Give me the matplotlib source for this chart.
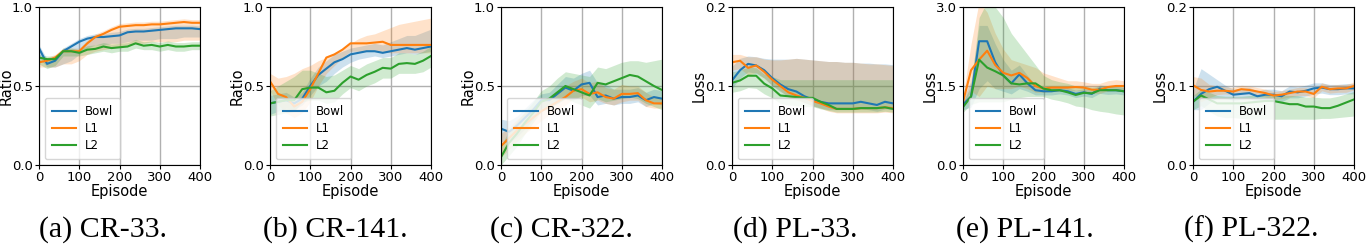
import numpy as np
import matplotlib
matplotlib.use("Agg")
import matplotlib.pyplot as plt

episodes = list(range(0, 401, 20))
series_names = ["Bowl", "L1", "L2"]
captions = ["(a) CR-33.", "(b) CR-141.", "(c) CR-322.", "(d) PL-33.", "(e) PL-141.", "(f) PL-322."]
ylabels = ["Ratio", "Ratio", "Ratio", "Loss", "Loss", "Loss"]
ylims = [1.0, 1.0, 1.0, 0.2, 3.0, 0.2]

# ---- (a) CR-33 ----
a_bowl = [0.74,0.64,0.66,0.72,0.75,0.78,0.80,0.81,0.81,0.815,0.82,0.84,0.845,0.845,0.85,0.855,0.86,0.865,0.865,0.865,0.86]
a_bowl_lo = [0.68,0.62,0.62,0.64,0.66,0.70,0.74,0.76,0.76,0.77,0.77,0.78,0.79,0.79,0.79,0.80,0.80,0.80,0.81,0.81,0.81]
a_bowl_hi = [0.76,0.67,0.69,0.74,0.77,0.80,0.82,0.83,0.83,0.84,0.845,0.86,0.865,0.865,0.87,0.875,0.88,0.885,0.885,0.885,0.88]
a_l1 = [0.65,0.66,0.68,0.72,0.72,0.72,0.77,0.81,0.83,0.855,0.875,0.88,0.885,0.885,0.89,0.89,0.895,0.90,0.905,0.90,0.90]
a_l1_lo = [0.62,0.62,0.62,0.64,0.64,0.66,0.70,0.72,0.73,0.74,0.75,0.76,0.77,0.77,0.78,0.78,0.78,0.78,0.79,0.79,0.79]
a_l1_hi = [0.67,0.68,0.70,0.74,0.74,0.74,0.79,0.83,0.85,0.875,0.895,0.90,0.905,0.905,0.91,0.91,0.915,0.92,0.925,0.92,0.92]
a_l2 = [0.68,0.67,0.67,0.72,0.72,0.71,0.73,0.735,0.75,0.74,0.745,0.75,0.77,0.755,0.76,0.75,0.76,0.75,0.75,0.755,0.755]
a_l2_lo = [0.64,0.61,0.63,0.69,0.69,0.69,0.70,0.71,0.72,0.71,0.72,0.72,0.74,0.73,0.73,0.72,0.73,0.72,0.72,0.73,0.73]
a_l2_hi = [0.70,0.69,0.69,0.74,0.74,0.73,0.755,0.76,0.775,0.765,0.77,0.775,0.795,0.78,0.785,0.775,0.785,0.775,0.775,0.78,0.78]

# ---- (b) CR-141 ----
b_bowl = [0.39,0.40,0.41,0.39,0.42,0.50,0.57,0.61,0.65,0.67,0.70,0.71,0.72,0.72,0.71,0.72,0.73,0.74,0.73,0.74,0.75]
b_bowl_lo = [0.32,0.34,0.36,0.35,0.38,0.44,0.50,0.53,0.58,0.62,0.65,0.67,0.68,0.69,0.68,0.69,0.70,0.71,0.70,0.71,0.72]
b_bowl_hi = [0.44,0.45,0.46,0.43,0.46,0.55,0.62,0.66,0.70,0.72,0.74,0.75,0.76,0.77,0.76,0.78,0.80,0.82,0.82,0.84,0.86]
b_l1 = [0.53,0.45,0.43,0.37,0.40,0.48,0.58,0.68,0.70,0.73,0.77,0.77,0.77,0.775,0.78,0.76,0.76,0.76,0.76,0.76,0.76]
b_l1_lo = [0.47,0.38,0.33,0.30,0.33,0.40,0.50,0.58,0.63,0.68,0.72,0.72,0.72,0.72,0.72,0.71,0.71,0.71,0.71,0.71,0.71]
b_l1_hi = [0.58,0.55,0.56,0.58,0.61,0.63,0.66,0.68,0.71,0.73,0.77,0.80,0.82,0.83,0.85,0.87,0.89,0.90,0.91,0.92,0.93]
b_l2 = [0.39,0.40,0.41,0.41,0.48,0.49,0.49,0.46,0.47,0.52,0.56,0.54,0.57,0.59,0.615,0.61,0.64,0.645,0.64,0.66,0.69]
b_l2_lo = [0.31,0.32,0.33,0.34,0.40,0.41,0.41,0.39,0.40,0.45,0.49,0.47,0.50,0.52,0.55,0.55,0.58,0.58,0.58,0.59,0.62]
b_l2_hi = [0.47,0.50,0.53,0.56,0.60,0.60,0.58,0.56,0.57,0.60,0.63,0.61,0.64,0.66,0.68,0.68,0.71,0.71,0.70,0.72,0.75]

# ---- (c) CR-322 ----
c_bowl = [0.23,0.21,0.25,0.30,0.35,0.41,0.41,0.45,0.49,0.47,0.51,0.52,0.43,0.44,0.42,0.43,0.43,0.44,0.41,0.43,0.42]
c_bowl_lo = [0.15,0.14,0.18,0.23,0.29,0.36,0.36,0.39,0.42,0.41,0.44,0.44,0.38,0.39,0.38,0.39,0.39,0.40,0.37,0.39,0.38]
c_bowl_hi = [0.29,0.28,0.31,0.36,0.41,0.45,0.46,0.51,0.56,0.55,0.58,0.60,0.52,0.51,0.48,0.48,0.48,0.49,0.46,0.48,0.47]
c_l1 = [0.12,0.17,0.22,0.26,0.30,0.34,0.37,0.40,0.43,0.47,0.48,0.45,0.46,0.43,0.42,0.45,0.45,0.455,0.41,0.39,0.39]
c_l1_lo = [0.05,0.10,0.15,0.20,0.24,0.28,0.32,0.35,0.38,0.42,0.43,0.40,0.41,0.39,0.38,0.40,0.41,0.41,0.37,0.36,0.36]
c_l1_hi = [0.20,0.24,0.29,0.33,0.37,0.40,0.43,0.46,0.50,0.53,0.55,0.52,0.53,0.49,0.48,0.51,0.50,0.50,0.46,0.43,0.43]
c_l2 = [0.05,0.14,0.20,0.27,0.33,0.40,0.42,0.46,0.50,0.48,0.46,0.44,0.52,0.51,0.53,0.55,0.57,0.56,0.53,0.50,0.475]
c_l2_lo = [0.00,0.06,0.12,0.20,0.27,0.34,0.36,0.39,0.42,0.40,0.38,0.36,0.42,0.40,0.41,0.42,0.43,0.42,0.39,0.37,0.35]
c_l2_hi = [0.12,0.22,0.28,0.34,0.40,0.47,0.50,0.55,0.59,0.58,0.57,0.56,0.62,0.61,0.63,0.65,0.66,0.66,0.65,0.66,0.67]

# ---- (d) PL-33 ----
d_bowl = [0.107,0.120,0.128,0.126,0.120,0.110,0.102,0.096,0.093,0.087,0.083,0.080,0.078,0.078,0.078,0.078,0.080,0.078,0.076,0.080,0.078]
d_bowl_lo = [0.097,0.110,0.118,0.116,0.110,0.100,0.093,0.087,0.084,0.079,0.075,0.072,0.070,0.070,0.070,0.070,0.071,0.070,0.068,0.071,0.070]
d_bowl_hi = [0.125,0.135,0.138,0.137,0.135,0.134,0.134,0.134,0.135,0.134,0.133,0.132,0.131,0.131,0.130,0.130,0.129,0.129,0.128,0.128,0.127]
d_l1 = [0.130,0.132,0.123,0.126,0.118,0.108,0.100,0.092,0.088,0.085,0.081,0.078,0.074,0.071,0.071,0.071,0.072,0.072,0.072,0.073,0.072]
d_l1_lo = [0.120,0.122,0.114,0.117,0.110,0.101,0.094,0.086,0.082,0.079,0.075,0.072,0.068,0.066,0.066,0.066,0.066,0.066,0.066,0.067,0.066]
d_l1_hi = [0.140,0.140,0.137,0.137,0.134,0.133,0.133,0.134,0.135,0.134,0.133,0.132,0.131,0.131,0.130,0.130,0.129,0.128,0.128,0.127,0.126]
d_l2 = [0.104,0.107,0.113,0.113,0.103,0.097,0.088,0.087,0.086,0.085,0.085,0.080,0.076,0.071,0.071,0.071,0.072,0.072,0.072,0.073,0.071]
d_l2_lo = [0.092,0.094,0.098,0.097,0.090,0.085,0.078,0.076,0.075,0.074,0.074,0.071,0.069,0.067,0.067,0.067,0.067,0.067,0.067,0.068,0.067]
d_l2_hi = [0.118,0.120,0.124,0.123,0.115,0.112,0.108,0.108,0.108,0.108,0.108,0.108,0.108,0.108,0.108,0.108,0.108,0.108,0.108,0.108,0.108]

# ---- (e) PL-141 ----
e_bowl = [1.15,1.30,2.35,2.35,1.95,1.70,1.55,1.72,1.55,1.42,1.40,1.40,1.42,1.40,1.35,1.38,1.35,1.45,1.42,1.42,1.40]
e_bowl_lo = [1.05,1.10,1.45,1.60,1.45,1.40,1.35,1.45,1.40,1.33,1.33,1.33,1.35,1.33,1.28,1.31,1.28,1.36,1.34,1.35,1.33]
e_bowl_hi = [1.25,1.60,2.65,2.65,2.30,2.00,1.80,1.90,1.70,1.52,1.47,1.47,1.49,1.47,1.42,1.45,1.42,1.52,1.50,1.49,1.47]
e_l1 = [1.20,1.80,2.00,2.17,1.90,1.75,1.70,1.75,1.65,1.50,1.45,1.47,1.47,1.47,1.48,1.47,1.43,1.43,1.48,1.50,1.50]
e_l1_lo = [1.10,1.40,1.30,1.50,1.45,1.45,1.45,1.50,1.45,1.38,1.38,1.40,1.40,1.40,1.41,1.40,1.36,1.36,1.41,1.42,1.42]
e_l1_hi = [1.30,2.30,3.10,2.90,2.50,2.20,2.00,1.95,1.90,1.85,1.75,1.70,1.65,1.60,1.60,1.58,1.55,1.55,1.60,1.62,1.60]
e_l2 = [1.10,1.30,2.00,1.85,1.78,1.70,1.55,1.53,1.55,1.55,1.45,1.42,1.42,1.38,1.33,1.37,1.36,1.42,1.42,1.42,1.40]
e_l2_lo = [1.00,1.15,1.20,1.20,1.20,1.20,1.25,1.28,1.30,1.30,1.30,1.25,1.22,1.18,1.12,1.10,1.05,1.02,1.00,0.97,0.95]
e_l2_hi = [1.20,1.50,2.80,3.10,3.00,2.80,2.50,2.30,2.10,1.90,1.70,1.62,1.58,1.55,1.50,1.50,1.48,1.50,1.50,1.50,1.48]

# ---- (f) PL-322 ----
f_bowl = [0.080,0.090,0.096,0.099,0.094,0.089,0.090,0.091,0.087,0.089,0.089,0.087,0.093,0.092,0.094,0.097,0.098,0.096,0.096,0.097,0.097]
f_bowl_lo = [0.070,0.070,0.078,0.085,0.084,0.082,0.083,0.084,0.080,0.082,0.082,0.080,0.085,0.085,0.087,0.090,0.091,0.089,0.089,0.090,0.090]
f_bowl_hi = [0.095,0.122,0.115,0.108,0.101,0.096,0.097,0.098,0.094,0.096,0.096,0.094,0.100,0.099,0.101,0.104,0.104,0.102,0.102,0.103,0.103]
f_l1 = [0.101,0.095,0.093,0.094,0.094,0.093,0.096,0.095,0.093,0.091,0.088,0.089,0.091,0.093,0.093,0.090,0.099,0.096,0.097,0.097,0.100]
f_l1_lo = [0.090,0.080,0.085,0.089,0.090,0.089,0.091,0.090,0.088,0.086,0.083,0.084,0.086,0.088,0.088,0.085,0.094,0.091,0.092,0.092,0.095]
f_l1_hi = [0.112,0.110,0.102,0.100,0.099,0.098,0.101,0.100,0.098,0.096,0.093,0.094,0.096,0.098,0.098,0.095,0.104,0.101,0.102,0.102,0.105]
f_l2 = [0.080,0.088,0.083,0.078,0.078,0.078,0.078,0.079,0.080,0.081,0.081,0.079,0.077,0.077,0.074,0.074,0.072,0.072,0.075,0.079,0.083]
f_l2_lo = [0.070,0.075,0.068,0.062,0.060,0.060,0.059,0.058,0.058,0.058,0.058,0.058,0.058,0.058,0.058,0.058,0.059,0.059,0.060,0.061,0.062]
f_l2_hi = [0.088,0.096,0.092,0.088,0.087,0.087,0.087,0.088,0.089,0.090,0.090,0.089,0.088,0.088,0.086,0.086,0.085,0.085,0.087,0.090,0.093]

panels = [
    [(a_bowl, a_bowl_lo, a_bowl_hi), (a_l1, a_l1_lo, a_l1_hi), (a_l2, a_l2_lo, a_l2_hi)],
    [(b_bowl, b_bowl_lo, b_bowl_hi), (b_l1, b_l1_lo, b_l1_hi), (b_l2, b_l2_lo, b_l2_hi)],
    [(c_bowl, c_bowl_lo, c_bowl_hi), (c_l1, c_l1_lo, c_l1_hi), (c_l2, c_l2_lo, c_l2_hi)],
    [(d_bowl, d_bowl_lo, d_bowl_hi), (d_l1, d_l1_lo, d_l1_hi), (d_l2, d_l2_lo, d_l2_hi)],
    [(e_bowl, e_bowl_lo, e_bowl_hi), (e_l1, e_l1_lo, e_l1_hi), (e_l2, e_l2_lo, e_l2_hi)],
    [(f_bowl, f_bowl_lo, f_bowl_hi), (f_l1, f_l1_lo, f_l1_hi), (f_l2, f_l2_lo, f_l2_hi)],
]

colors = ["#1f77b4", "#ff7f0e", "#2ca02c"]

W, H = 1368, 250
fig = plt.figure(figsize=(W / 100, H / 100), dpi=100)

ax_left_px = [39, 270, 501, 732, 963, 1193]
ax_w_px = 161
ax_top_px, ax_bot_px = 7, 165
caption_cx_px = [103, 335, 561, 795, 1025, 1251]

x = np.array(episodes)
for i, panel in enumerate(panels):
    ax = fig.add_axes([ax_left_px[i] / W, (H - ax_bot_px) / H,
                       ax_w_px / W, (ax_bot_px - ax_top_px) / H])
    for (m, lo, hi), c, name in zip(panel, colors, series_names):
        ax.fill_between(x, lo, hi, color=c, alpha=0.22, linewidth=0)
        ax.plot(x, m, color=c, linewidth=1.5, label=name)
    ymax = ylims[i]
    ax.set_xlim(0, 400)
    ax.set_ylim(0, ymax)
    ax.set_xticks([0, 100, 200, 300, 400])
    ax.set_yticks([0, ymax / 2, ymax])
    ax.set_yticklabels([f"{v:.1f}" for v in [0, ymax / 2, ymax]])
    ax.tick_params(labelsize=9.5, length=3, pad=1.5)
    ax.grid(True, color="#b0b0b0", linewidth=1.0)
    ax.set_axisbelow(True)
    ax.set_xlabel("Episode", fontsize=10.5, labelpad=0)
    ax.set_ylabel(ylabels[i], fontsize=10.5)
    ax.yaxis.set_label_coords(-0.155, 0.5)
    ax.legend(loc="lower left", fontsize=8.5, handlelength=2.0,
              labelspacing=0.35, borderpad=0.6)
    fig.text(caption_cx_px[i] / W, (H - 237) / H, captions[i], ha="center",
             va="baseline", fontsize=21.5, family="Liberation Serif")

fig.savefig("out.png", dpi=100)
